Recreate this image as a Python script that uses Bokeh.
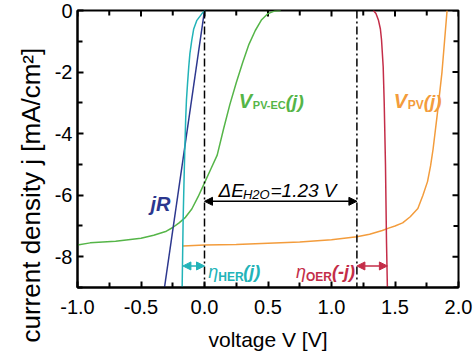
import math
from bokeh.plotting import figure
from bokeh.models import (Range1d, LinearAxis, FixedTicker, Span, Arrow, NormalHead, Label, Title)
from bokeh.embed import file_html
from bokeh.resources import INLINE

# ---------------- data ----------------
# jR line (ohmic drop)
jr_v = [0.0, -0.315]
jr_j = [0.0, -9.0]

# HER overpotential curve
her_v = [0.005, -0.02, -0.06, -0.085, -0.10, -0.115, -0.124, -0.134, -0.142, -0.148, -0.155, -0.161, -0.168, -0.171, -0.176]
her_j = [0.0, -0.1, -0.32, -0.6, -0.96, -1.4, -1.83, -2.4, -2.9, -3.5, -4.5, -5.5, -6.75, -7.6, -9.0]

# OER overpotential curve
oer_v = [1.33, 1.35, 1.37, 1.385, 1.394, 1.407, 1.415, 1.425, 1.433, 1.44]
oer_j = [0.0, -0.1, -0.32, -0.6, -0.96, -1.83, -3.0, -5.0, -7.5, -9.0]

# PV curve
pv_v = [-0.17, 0.0, 0.25, 0.5, 0.75, 1.0, 1.2, 1.3, 1.4, 1.45, 1.5, 1.56, 1.62, 1.68, 1.72, 1.756, 1.78, 1.8, 1.835, 1.87, 1.89, 1.91]
pv_j = [-7.65, -7.62, -7.6, -7.56, -7.52, -7.45, -7.35, -7.27, -7.15, -7.07, -7.0, -6.9, -6.7, -6.43, -6.0, -5.56, -5.05, -4.5, -3.3, -2.0, -1.0, 0.0]

# PV-EC curve
pvec_v = [-1.0, -0.9, -0.8, -0.7, -0.6, -0.5, -0.4, -0.3, -0.25, -0.2, -0.15, -0.1, -0.05, 0.0, 0.05, 0.1, 0.15, 0.2, 0.25, 0.3, 0.35, 0.4, 0.45, 0.5, 0.55, 0.6]
pvec_j = [-7.62, -7.55, -7.52, -7.5, -7.45, -7.4, -7.3, -7.17, -7.05, -6.9, -6.72, -6.45, -6.05, -5.6, -5.15, -4.7, -3.85, -3.05, -2.35, -1.7, -1.1, -0.65, -0.3, -0.1, -0.02, 0.0]

# reference lines / arrows
de_lines = [0.0, 1.2]
de_arrow_v = [0.0, 1.2]
de_arrow_j = -6.2
her_arrow_v = [-0.17, 0.0]
oer_arrow_v = [1.2, 1.44]
eta_arrow_j = -8.3

x_ticks = [-1.0, -0.5, 0.0, 0.5, 1.0, 1.5, 2.0]
x_tick_labels = ["-1.0", "-0.5", "0.0", "0.5", "1.0", "1.5", "2.0"]
x_minor = [-0.75, -0.25, 0.25, 0.75, 1.25, 1.75]
y_ticks = [0, -2, -4, -6, -8]
y_tick_labels = ["0", "-2", "-4", "-6", "-8"]
y_minor = [-1, -3, -5, -7, -9]

x_title = "voltage V [V]"
y_title = "current density j [mA/cm²]"

# colours
C_GREEN = "#55b548"
C_ORANGE = "#f39c3c"
C_CYAN = "#22b3b8"
C_BLUE = "#2c378e"
C_RED = "#c42d48"

FONT = "Liberation Sans"
X0, X1, Y0, Y1 = -1.0, 2.0, -9.0, 0.0

p = figure(width=474, height=353, output_backend="svg", toolbar_location=None,
           x_range=Range1d(X0, X1), y_range=Range1d(Y0, Y1),
           min_border_left=77, min_border_right=16, min_border_top=10, min_border_bottom=63,
           x_axis_location=None, y_axis_location=None)
p.background_fill_color = "white"
p.border_fill_color = "white"
p.outline_line_color = "black"
p.outline_line_width = 2
p.xgrid.visible = False
p.ygrid.visible = False


def make_axis(ticks, minor, overrides, standoff, label, label_size, label_standoff):
    ax = LinearAxis(ticker=FixedTicker(ticks=ticks, minor_ticks=minor))
    ax.axis_line_width = 2
    ax.major_tick_in = 6
    ax.major_tick_out = 0
    ax.minor_tick_in = 5
    ax.minor_tick_out = 0
    ax.major_tick_line_width = 2
    ax.minor_tick_line_width = 2
    ax.major_label_standoff = standoff
    ax.major_label_overrides = overrides
    ax.major_label_text_font = FONT
    ax.major_label_text_font_size = "20px"
    ax.major_label_text_color = "black"
    if label:
        ax.axis_label = label
        ax.axis_label_text_font = FONT
        ax.axis_label_text_font_size = label_size
        ax.axis_label_text_font_style = "normal"
        ax.axis_label_text_color = "black"
        ax.axis_label_standoff = label_standoff
    return ax

xo = {t: l for t, l in zip(x_ticks, x_tick_labels)}
yo = {t: l for t, l in zip(y_ticks, y_tick_labels)}
p.add_layout(make_axis(x_ticks, x_minor, xo, 12, x_title, "21px", 11), "below")
p.add_layout(make_axis(y_ticks, y_minor, yo, 5, None, None, 0), "left")

# y title as a side-panel Title so it can be shifted along the axis
p.add_layout(Title(text=y_title, align="left", offset=-55, standoff=12,
                   text_font=FONT, text_font_size="26px", text_font_style="normal",
                   text_color="black"), "left")

# inward ticks on the top and right frame edges
tick_len = {"major": 6, "minor": 5}
for xs, L in ((x_ticks, tick_len["major"]), (x_minor, tick_len["minor"])):
    p.ray(x=xs, y=[Y1] * len(xs), length=L, length_units="screen",
          angle=-math.pi / 2, line_color="black", line_width=2)
for ys, L in ((y_ticks, tick_len["major"]), (y_minor, tick_len["minor"])):
    p.ray(x=[X1] * len(ys), y=ys, length=L, length_units="screen",
          angle=math.pi, line_color="black", line_width=2)

# dash-dot reference lines
for v in de_lines:
    p.add_layout(Span(location=v, dimension="height", line_color="black",
                      line_width=1.5, line_dash="8 3 2 3"))

# curves
p.line(pvec_v, pvec_j, line_color=C_GREEN, line_width=1.5)
p.line(pv_v, pv_j, line_color=C_ORANGE, line_width=1.5)
p.line(jr_v, jr_j, line_color=C_BLUE, line_width=1.5)
p.line(her_v, her_j, line_color=C_CYAN, line_width=1.5)
p.line(oer_v, oer_j, line_color=C_RED, line_width=1.5)

# arrows
def darrow(v0, v1, j, color):
    p.add_layout(Arrow(x_start=v0, y_start=j, x_end=v1, y_end=j,
                       line_color=color, line_width=1.5,
                       start=NormalHead(size=8, fill_color=color, line_color=color),
                       end=NormalHead(size=8, fill_color=color, line_color=color)))

darrow(de_arrow_v[0], de_arrow_v[1], de_arrow_j, "black")
darrow(her_arrow_v[0], her_arrow_v[1], eta_arrow_j, C_CYAN)
darrow(oer_arrow_v[0], oer_arrow_v[1], eta_arrow_j, C_RED)


# composite labels
def lab(x, y, text, size, style, color, xo=0, yo=0):
    p.add_layout(Label(x=x, y=y, text=text, x_offset=xo, y_offset=yo,
                       text_font=FONT, text_font_size=f"{size}px", text_font_style=style,
                       text_color=color, text_baseline="alphabetic", text_align="left"))

# V_PV-EC(j)
lab(0.27, -2.95, "V", 20, "bold italic", C_GREEN)
lab(0.27, -2.95, "PV-EC", 11, "bold", C_GREEN, xo=14, yo=-4)
lab(0.27, -2.95, "(j)", 19, "bold italic", C_GREEN, xo=47)
# V_PV(j)
lab(1.49, -2.95, "V", 20, "bold italic", C_ORANGE)
lab(1.49, -2.95, "PV", 12, "bold", C_ORANGE, xo=14, yo=-4)
lab(1.49, -2.95, "(j)", 19, "bold italic", C_ORANGE, xo=30)
# jR
lab(-0.425, -6.3, "jR", 20, "bold italic", C_BLUE)
# Delta E
lab(0.11, -5.84, "ΔE", 19, "italic", "black")
lab(0.11, -5.84, "H2O", 13, "italic", "black", xo=24.5, yo=-4)
lab(0.11, -5.84, "=1.23 V", 19, "italic", "black", xo=52)
# eta HER
lab(0.03, -8.49, "η", 18, "italic", C_CYAN)
lab(0.03, -8.49, "HER", 12, "bold", C_CYAN, xo=10, yo=-5)
lab(0.03, -8.49, "(j)", 18, "bold italic", C_CYAN, xo=35)
# eta OER
lab(0.72, -8.49, "η", 18, "italic", C_RED)
lab(0.72, -8.49, "OER", 12, "bold", C_RED, xo=10, yo=-5)
lab(0.72, -8.49, "(-j)", 18, "bold italic", C_RED, xo=36)

open("out.html", "w").write(file_html(p, INLINE))
